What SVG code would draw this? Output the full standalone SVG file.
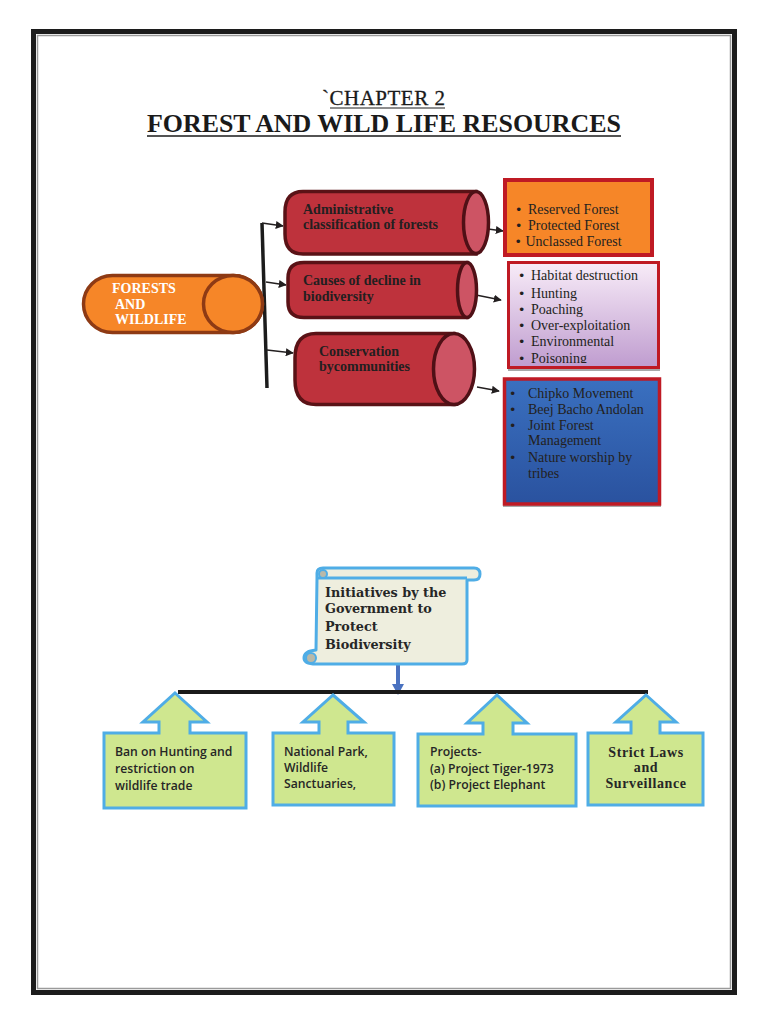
<svg xmlns="http://www.w3.org/2000/svg" width="768" height="1024" viewBox="0 0 768 1024">
<style>
.serif{font-family:"Liberation Serif","Times New Roman",serif;font-size:14px;fill:#231f20}
.bu{font-family:"DejaVu Sans",sans-serif;font-size:12.500px}
.b{font-weight:bold}
.cyl{fill:#be323c;stroke:#5a1216;stroke-width:3.5}
.cap{fill:#cd5464;stroke:#4f1016;stroke-width:3.5}
.line{stroke:#231f20;stroke-width:1.5;fill:none;marker-end:url(#ah)}
.green{fill:#cfe78f;stroke:#4fade6;stroke-width:3;stroke-linejoin:miter}
.sans{font-family:"Open Sans","Noto Sans",sans-serif;font-size:12.200px;font-weight:600;fill:#262626}
.cam{font-family:"DejaVu Serif",serif;font-weight:bold;fill:#262626}
.shadow{fill:#a8a8a8}
</style>
<defs>
<marker id="ah" viewBox="0 0 10 10" refX="9" refY="5" markerWidth="8" markerHeight="8" markerUnits="userSpaceOnUse" orient="auto"><path d="M0 0L10 5L0 10z" fill="#231f20"/></marker>
<linearGradient id="pur" x1="0" y1="0" x2="0" y2="1"><stop offset="0" stop-color="#f8ecf8"/><stop offset="1" stop-color="#bf9ccf"/></linearGradient>
<linearGradient id="blu" x1="0" y1="0" x2="0" y2="1"><stop offset="0" stop-color="#3a70c0"/><stop offset="1" stop-color="#2a529f"/></linearGradient>
<clipPath id="declineclip"><rect x="508" y="262" width="150" height="101"/></clipPath>
</defs>
<g id="page-border" fill="none">
<rect x="33.500" y="31.500" width="701" height="961" stroke="#1c1c1c" stroke-width="5"/>
<rect x="37.500" y="35.500" width="693" height="953" stroke="#9a9a9a" stroke-width="1.500"/>
</g>
<g id="title" font-family="'Liberation Serif',serif" fill="#1a1a1a" font-weight="bold">
<text x="322" y="105" font-size="21" letter-spacing="0.500" font-weight="normal" stroke="#1a1a1a" stroke-width="0.300">`CHAPTER 2</text>
<path d="M330 108H445" stroke="#1a1a1a" stroke-width="1"/>
<text x="147" y="132" font-size="25.900">FOREST AND WILD LIFE RESOURCES</text>
<path d="M147 136H621" stroke="#1a1a1a" stroke-width="1.500"/>
</g>
<g id="connectors">
<path d="M262 223L267 388" stroke="#1c1c1c" stroke-width="3.500" fill="none"/>
<path class="line" d="M262 223L283 226"/>
<path class="line" d="M266 282L286 285"/>
<path class="line" d="M267 350L293 353"/>
<path class="line" d="M488 229L503 231"/>
<path class="line" d="M476 295L501 300"/>
<path class="line" d="M477 387L499 391"/>
<path d="M398 665V688" stroke="#4a72c0" stroke-width="4" fill="none"/>
<path d="M392 684H404L398 695z" fill="#4a72c0"/>
<path d="M178 692H648" stroke="#1a1a1a" stroke-width="4" fill="none"/>
</g>
<g id="forests">
<rect x="83.500" y="275.500" width="179" height="57" rx="29" fill="#f68628" stroke="#8e3a14" stroke-width="3.500"/>
<ellipse cx="233" cy="304" rx="29.500" ry="28.500" fill="#f68628" stroke="#8e3a14" stroke-width="3.500"/>
<g class="serif b" style="fill:#fff"><text x="112" y="293">FORESTS</text><text x="115" y="309">AND</text><text x="115" y="324">WILDLIFE</text></g>
</g>
<g id="admin">
<path class="cyl" d="M476 191.500H303Q285 191.500 285 212V234Q285 254 303 254H476z"/>
<ellipse class="cap" cx="476" cy="222.500" rx="12.500" ry="31"/>
<g class="serif b"><text x="303" y="214">Administrative</text><text x="303" y="229">classification of forests</text></g>
</g>
<g id="causes">
<path class="cyl" d="M467 262.500H304Q288 262.500 288 278V302Q288 317.500 304 317.500H467z"/>
<ellipse class="cap" cx="467" cy="290" rx="9.500" ry="27.500"/>
<g class="serif b"><text x="303" y="285">Causes of decline in</text><text x="303" y="301">biodiversity</text></g>
</g>
<g id="conservation">
<path class="cyl" d="M454 333.500H316Q295 333.500 295 358V380Q295 404.500 316 404.500H454z"/>
<ellipse class="cap" cx="454" cy="369" rx="20.500" ry="35.500"/>
<g class="serif b"><text x="319" y="356">Conservation</text><text x="319" y="371">bycommunities</text></g>
</g>
<g id="classes">
<rect x="505" y="180" width="147" height="75" fill="#f68628" stroke="#bf1a24" stroke-width="4"/>
<g class="serif">
<text y="214"><tspan class="bu" x="515">•</tspan><tspan x="528">Reserved Forest</tspan></text>
<text y="230"><tspan class="bu" x="515">•</tspan><tspan x="528">Protected Forest</tspan></text>
<text y="246"><tspan class="bu" x="514.500">•</tspan><tspan x="525.500">Unclassed Forest</tspan></text>
</g>
</g>
<g id="decline">
<rect class="shadow" x="508" y="264" width="152" height="107"/>
<rect x="508.500" y="262.500" width="150" height="105" fill="url(#pur)"/>
<g class="serif" clip-path="url(#declineclip)">
<text y="280"><tspan class="bu" x="518">•</tspan><tspan x="531">Habitat destruction</tspan></text>
<text y="298"><tspan class="bu" x="518">•</tspan><tspan x="531">Hunting</tspan></text>
<text y="314"><tspan class="bu" x="518">•</tspan><tspan x="531">Poaching</tspan></text>
<text y="330"><tspan class="bu" x="518">•</tspan><tspan x="531">Over-exploitation</tspan></text>
<text y="346"><tspan class="bu" x="518">•</tspan><tspan x="531">Environmental</tspan></text>
<text y="363"><tspan class="bu" x="518">•</tspan><tspan x="531">Poisoning</tspan></text>
</g>
<rect x="508.500" y="262.500" width="150" height="105" fill="none" stroke="#bf1a24" stroke-width="3"/>
</g>
<g id="communities">
<rect class="shadow" x="503" y="381" width="158" height="126"/>
<rect x="504.500" y="379" width="155" height="125" fill="url(#blu)" stroke="#bf1a24" stroke-width="3.500"/>
<g class="serif">
<text y="398"><tspan class="bu" x="509">•</tspan><tspan x="528">Chipko Movement</tspan></text>
<text y="414"><tspan class="bu" x="509">•</tspan><tspan x="528">Beej Bacho Andolan</tspan></text>
<text y="430"><tspan class="bu" x="509">•</tspan><tspan x="528">Joint Forest</tspan></text>
<text x="528" y="445">Management</text>
<text y="462"><tspan class="bu" x="509">•</tspan><tspan x="528">Nature worship by</tspan></text>
<text x="528" y="478">tribes</text>
</g>
</g>
<g id="initiatives">
<path d="M317 578V573Q317 568 323 568H474Q480 568 480 574Q480 580 474 580H467V660Q467 664 462 664H316Q304 664 304 658Q304 651 316 650z" fill="#eeeede" stroke="#4fade6" stroke-width="3" stroke-linejoin="round"/>
<path d="M317 578H467" stroke="#4fade6" stroke-width="3" fill="none"/>
<circle cx="323" cy="574" r="4" fill="#b9b9a9" stroke="#4fade6" stroke-width="2"/>
<circle cx="311" cy="658" r="5" fill="#b9b9a9" stroke="#4fade6" stroke-width="2"/>
<g class="cam" style="font-size:12.800px"><text x="325" y="597">Initiatives by the</text><text x="325" y="613">Government to</text><text x="325" y="631">Protect</text><text x="325" y="649">Biodiversity</text></g>
</g>
<g id="ban">
<path class="green" d="M175 693L207 722H190V733H246V808H104V733H159V722H143z"/>
<g class="sans"><text x="115" y="756">Ban on Hunting and</text><text x="115" y="773">restriction on</text><text x="115" y="790">wildlife trade</text></g>
</g>
<g id="parks">
<path class="green" d="M333 695L364 722H348V733H394V805H273V733H319V722H303z"/>
<g class="sans"><text x="284" y="756">National Park,</text><text x="284" y="772">Wildlife</text><text x="284" y="788">Sanctuaries,</text></g>
</g>
<g id="projects">
<path class="green" d="M497 695L527 723H513V734H576V806H418V734H483V723H467z"/>
<g class="sans"><text x="430" y="756">Projects-</text><text x="430" y="773">(a) Project Tiger-1973</text><text x="430" y="789">(b) Project Elephant</text></g>
</g>
<g id="laws">
<path class="green" d="M646 695L676 722H660V733H703V805H588V733H631V722H616z"/>
<g class="serif b" style="font-size:14px;letter-spacing:.6px;fill:#262626" text-anchor="middle"><text x="646" y="757">Strict Laws</text><text x="646" y="772">and</text><text x="646" y="788">Surveillance</text></g>
</g>
</svg>
